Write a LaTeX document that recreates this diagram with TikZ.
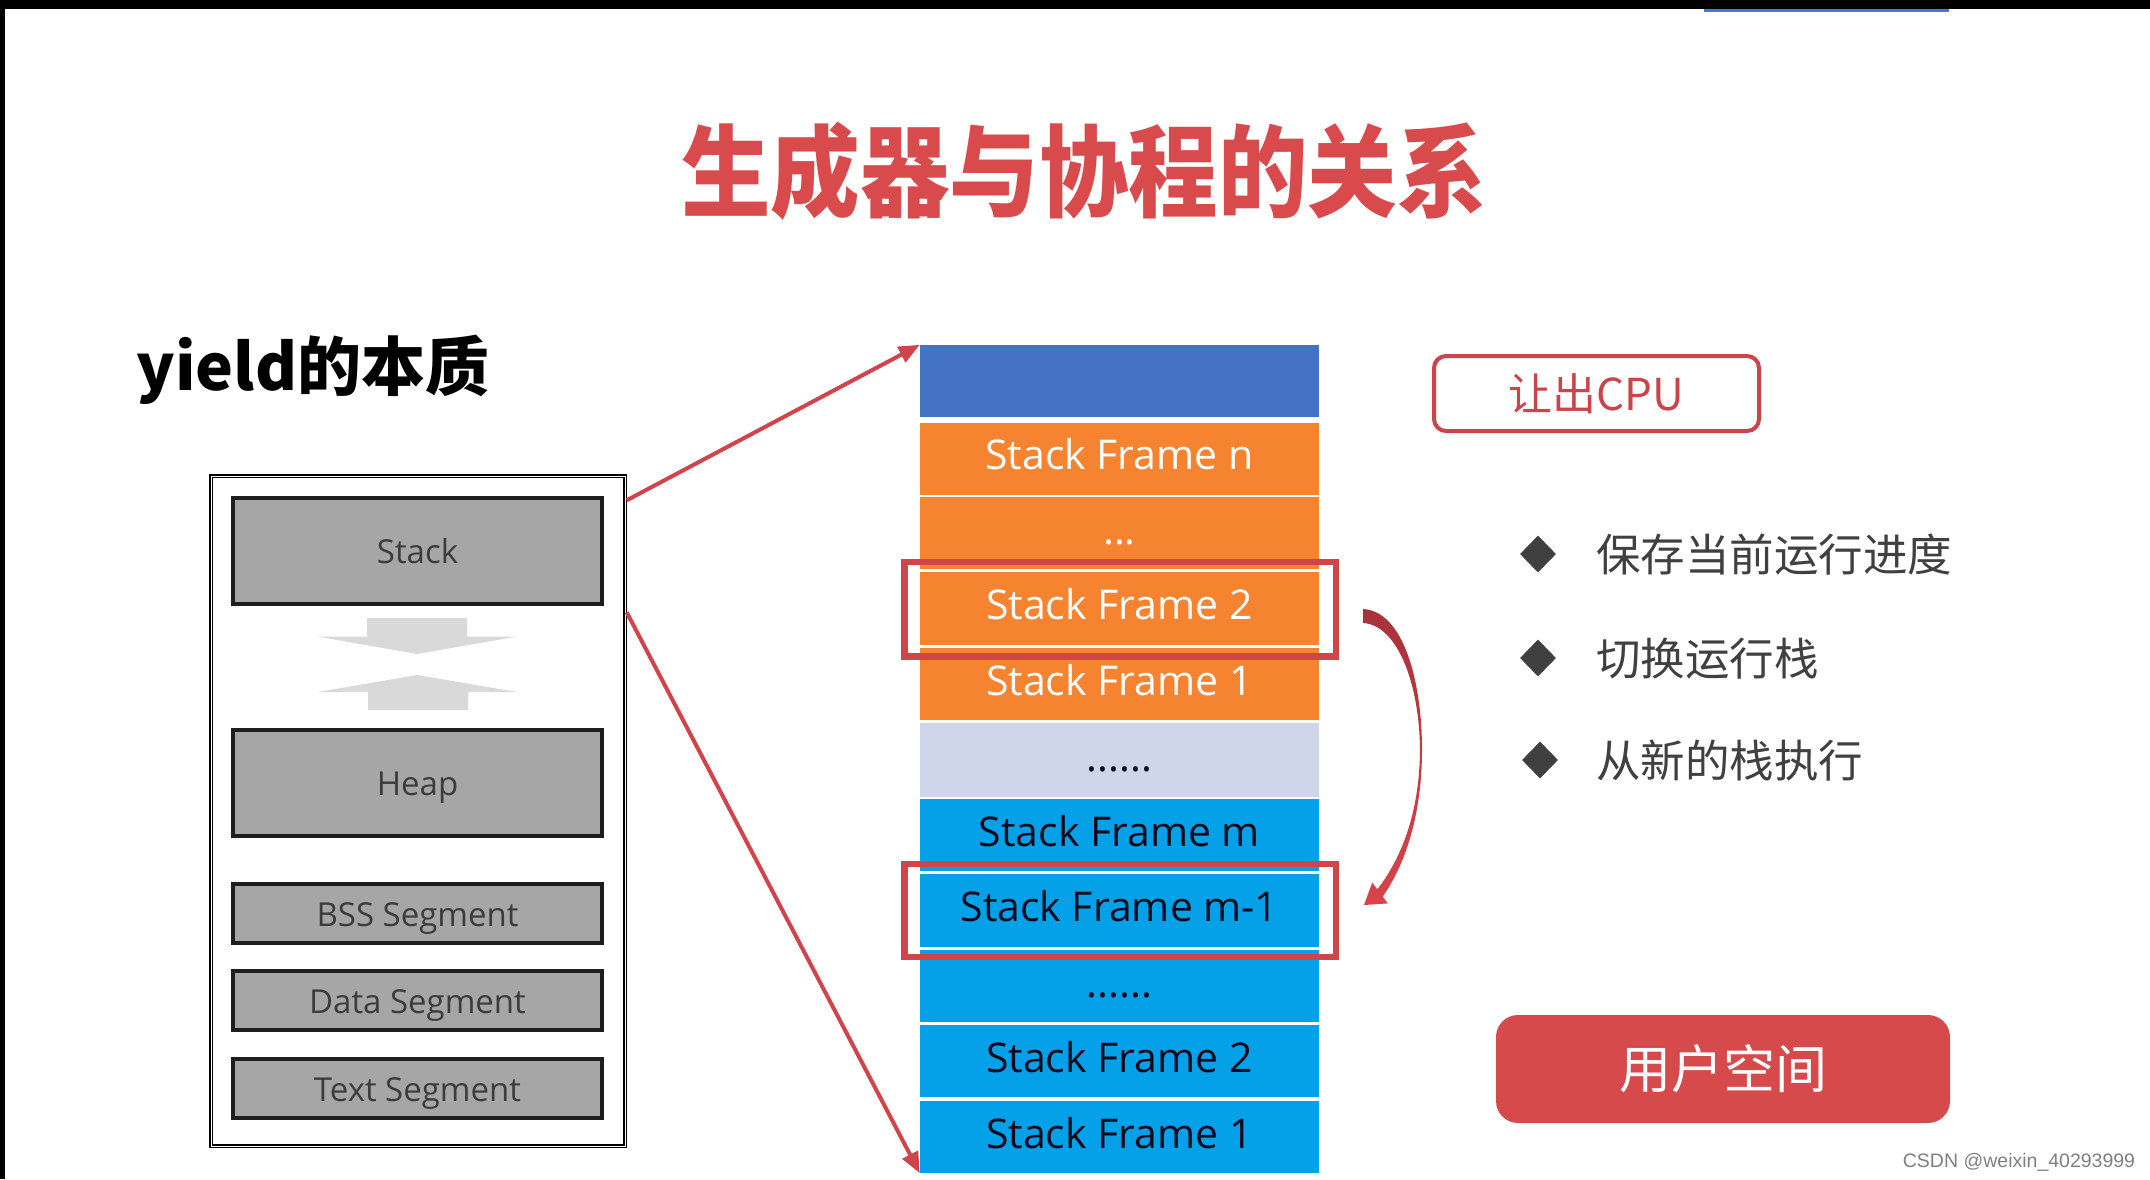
\documentclass[tikz,border=0pt]{standalone}
\usepackage{fontspec}
\setmainfont{Open Sans}
\newfontfamily\cjk{Noto Sans CJK SC}
\newfontfamily\wmfont{Liberation Sans}
\usetikzlibrary{arrows.meta,calc,shapes.geometric}
\definecolor{titlered}{HTML}{D94A4D}
\definecolor{linered}{HTML}{D0454B}
\definecolor{hlred}{HTML}{CF4549}
\definecolor{segfill}{HTML}{A6A6A6}
\definecolor{segline}{HTML}{1E1E1E}
\definecolor{segtext}{HTML}{3C3C3C}
\definecolor{arrgray}{HTML}{D9D9D9}
\definecolor{topblue}{HTML}{4472C4}
\definecolor{frameorange}{HTML}{F5832F}
\definecolor{lavender}{HTML}{CFD5EA}
\definecolor{cyanframe}{HTML}{04A1E9}
\definecolor{darktext}{HTML}{0B0B1C}
\definecolor{bullettext}{HTML}{404040}
\definecolor{cpured}{HTML}{C9454A}
\definecolor{userred}{HTML}{D64A4C}
\definecolor{swtop}{HTML}{A8323A}
\definecolor{swbot}{HTML}{D8444A}
\definecolor{barblue}{HTML}{3A7BE0}
\begin{document}
\begin{tikzpicture}[x=1pt,y=-1pt,
  segbox/.style={fill=segfill,draw=segline,line width=3.5pt,minimum width=369pt,
    inner sep=0pt,text=segtext,text height=25pt,text depth=0pt,
    font=\fontsize{33}{36}\selectfont},
  cell/.style={minimum width=399pt,minimum height=72pt,inner sep=0pt,
    text height=22pt,text depth=0pt,font=\fontsize{41}{44}\selectfont},
  ocell/.style={cell,fill=frameorange,text=white},
  ccell/.style={cell,fill=cyanframe,text=darktext},
  hlbox/.style={draw=hlred,line width=6.5pt,minimum width=431.5pt,inner sep=0pt},
  redarrow/.style={draw=linered,line width=4pt,-{Triangle[length=21pt,width=17pt]}},
  bullet/.style={diamond,fill=bullettext,minimum width=36pt,minimum height=37pt,inner sep=0pt},
  btext/.style={anchor=west,inner sep=0pt,text=bullettext,font=\cjk\fontsize{44.5}{48}\selectfont}
]
\useasboundingbox (0,0) rectangle (2150,1179);
\fill[white] (0,0) rectangle (2150,1179);
% screen edges
\fill[black] (0,0) rectangle (2150,9);
\fill[black] (0,0) rectangle (5,1179);
\fill[barblue] (1704,9) rectangle (1949,11.5);

% title
\node[inner sep=0pt,text=titlered] (title) at (1084,171)
  {\scalebox{1}[1.12]{\cjk\bfseries\fontsize{89.5}{96}\selectfont 生成器与协程的关系}};
\node[inner sep=0pt,text=black] (yield) at (313,370)
  {\cjk\bfseries\fontsize{64}{68}\selectfont yield的本质};

% memory layout
\node[draw=black,line width=1.4pt,double=white,double distance=1pt,
  minimum width=414pt,minimum height=670pt,inner sep=0pt] (mem) at (418,811) {};
\node[segbox,minimum height=106pt] (stackseg) at (417.5,551) {Stack};
\node[segbox,minimum height=106pt] (heapseg) at (417.5,783) {Heap};
\node[segbox,minimum height=59pt] (bssseg) at (417.5,913.5) {BSS Segment};
\node[segbox,minimum height=59pt] (dataseg) at (417.5,1000.5) {Data Segment};
\node[segbox,minimum height=59pt] (textseg) at (417.5,1088.5) {Text Segment};
% growth arrows
\fill[arrgray] (367,618) -- (467,618) -- (467,636.5) -- (517,636.5) -- (417,654)
  -- (317,636.5) -- (367,636.5) -- cycle;
\fill[arrgray] (417,675) -- (517,692) -- (468,692) -- (468,710) -- (368,710)
  -- (368,692) -- (318,692) -- cycle;

% stack column
\node[cell,fill=topblue] (tb) at (1119.5,381) {};
\node[ocell] (o1) at (1119.5,458.5) {Stack Frame n};
\node[ocell] (o2) at (1119.5,533) {...};
\node[ocell,minimum height=73pt] (o3) at (1119.5,608.5) {Stack Frame 2};
\node[ocell] (o4) at (1119.5,684) {Stack Frame 1};
\node[cell,fill=lavender,text=darktext,minimum height=74pt] (lav) at (1119.5,760) {......};
\node[ccell] (c1) at (1119.5,835) {Stack Frame m};
\node[ccell,minimum height=73pt] (c2) at (1119.5,910.5) {Stack Frame m-1};
\node[ccell] (c3) at (1119.5,986) {......};
\node[ccell] (c4) at (1119.5,1061) {Stack Frame 2};
\node[ccell] (c5) at (1119.5,1137) {Stack Frame 1};

% highlight boxes
\node[hlbox,minimum height=94.5pt] (h1) at (1120.25,609.25) {};
\node[hlbox,minimum height=93pt] (h2) at (1120.25,910.5) {};

% connectors
\draw[redarrow] ($(mem.north east)+(1,25)$) -- (tb.north west);
\draw[redarrow] ($(mem.north east)+(1,137)$) -- (c5.south west);

% curved swoosh arrow from h1 to h2
\shade[top color=swtop,bottom color=swbot]
  (1363,609) .. controls (1403,611) and (1422,680) .. (1422,750)
  .. controls (1422,815) and (1405,865) .. (1382.7,896.6)
  -- (1387.8,903.4) -- (1364,905) -- (1372.2,882.6) -- (1377.3,889.4)
  .. controls (1400,860) and (1419.5,815) .. (1420,750)
  .. controls (1419.5,685) and (1398,625) .. (1363,623) -- cycle;

% right side
\node[draw=cpured,line width=4pt,rounded corners=12pt,minimum width=325pt,
  minimum height=75pt,inner sep=0pt,text=cpured,
  font=\cjk\fontsize{44}{48}\selectfont] (cpu) at (1596.5,393.5) {让出CPU};
\node[bullet] (d1) at (1538,554) {};
\node[bullet] (d2) at (1538,658) {};
\node[bullet] (d3) at (1540,760) {};
\node[btext] (t1) at (1596,555) {保存当前运行进度};
\node[btext] (t2) at (1596,659) {切换运行栈};
\node[btext] (t3) at (1596,761) {从新的栈执行};
\node[fill=userred,rounded corners=22pt,minimum width=454pt,minimum height=108pt,
  inner sep=0pt,text=white,font=\cjk\fontsize{52}{56}\selectfont] (us) at (1723,1069) {用户空间};

% watermark
\node[inner sep=0pt,text=black!50,font=\wmfont\fontsize{19.5}{22}\selectfont] (wm)
  at (2019,1162) {CSDN @weixin\_40293999};
\end{tikzpicture}
\end{document}
